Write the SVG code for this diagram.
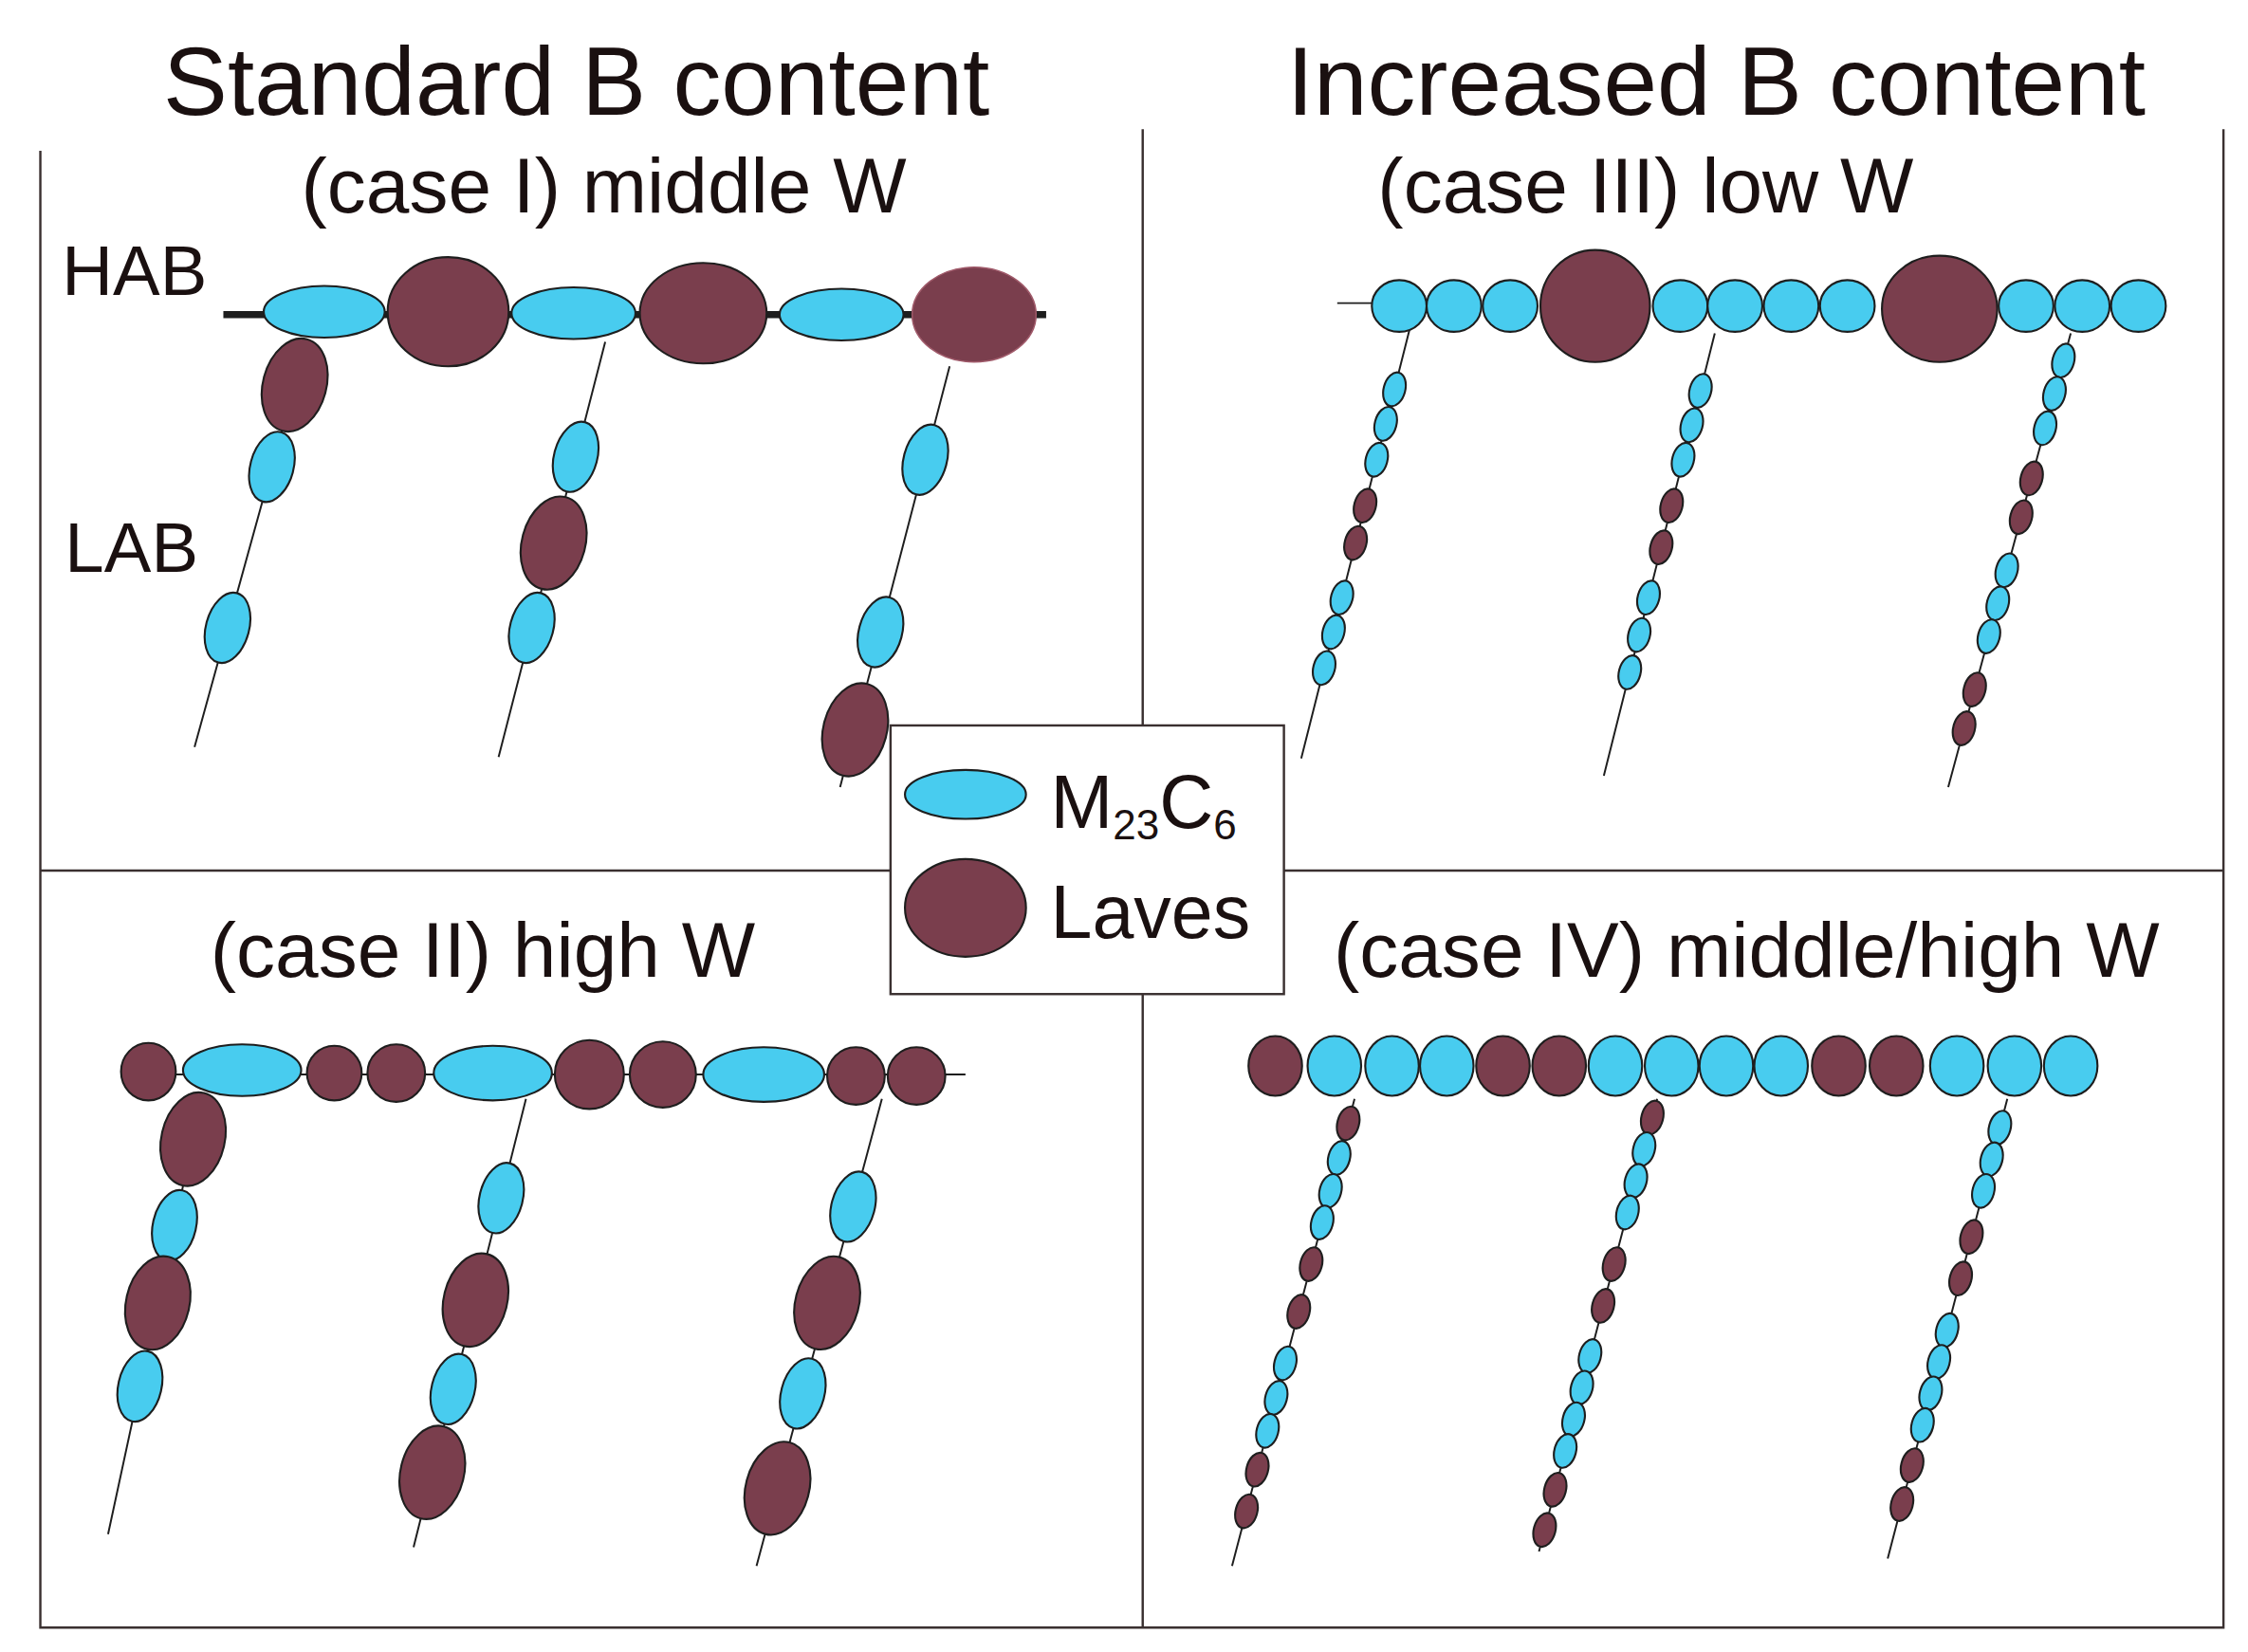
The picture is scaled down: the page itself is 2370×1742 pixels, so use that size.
<svg xmlns="http://www.w3.org/2000/svg" width="2370" height="1742" viewBox="0 0 2370 1742">
<style>
.c{fill:#48ccef;stroke:#1e1e1e;stroke-width:1.4}
.m{fill:#7a3e4d;stroke:#1e1e1e;stroke-width:1.4}
.ln{stroke:#1e1e1e;stroke-width:1.3;fill:none}
.fr{stroke:#3a3030;stroke-width:1.6;fill:none}
text{font-family:"Liberation Sans",Arial,sans-serif;fill:#1a1010}
.t{font-size:67px;text-anchor:middle}
.s{font-size:54px;text-anchor:middle}
.l{font-size:49px}
</style>
<rect width="2370" height="1742" fill="#fff"/>
<g transform="scale(1.5192,1.5148)">
<g id="frame">
<path class="fr" d="M28 105V1133H1543V90M793 90V1133M28 606H1543"/>
</g>
<g id="titles">
<text class="t" x="400" y="80">Standard B content</text>
<text class="t" x="1191" y="80">Increased B content</text>
<text class="s" x="419" y="148">(case I) middle W</text>
<text class="s" x="1142" y="148">(case III) low W</text>
<text class="s" x="335" y="680">(case II) high W</text>
<text class="s" x="1212" y="680">(case IV) middle/high W</text>
<text class="l" x="43" y="205">HAB</text>
<text class="l" x="45" y="398">LAB</text>
</g>
<g id="connectors">
<path d="M155 219H726" stroke="#1e1e1e" stroke-width="5"/>
<path class="ln" d="M213 237L135 520M420 238L346 527M659 255L583 548"/>
<path class="ln" d="M928 211H960M978 230L903 528M1190 232L1113 540M1437 232L1352 548"/>
<path class="ln" d="M88 748H670M140 765L75 1068M365 765L287 1077M612 765L525 1090"/>
<path class="ln" d="M940 765L855 1090M1150 765L1068 1080M1393 765L1310 1085"/>
</g>
<g id="case1">
<ellipse class="c" cx="225" cy="217" rx="42" ry="18"/>
<ellipse class="m" cx="311" cy="217" rx="42" ry="38"/>
<ellipse class="c" cx="398" cy="218" rx="43" ry="18"/>
<ellipse class="m" cx="488" cy="218" rx="44" ry="35"/>
<ellipse class="c" cx="584" cy="219" rx="43" ry="18"/>
<ellipse cx="676" cy="219" rx="43" ry="33" fill="#7a3e4d" stroke="#a05a6a" stroke-width="1"/>
<ellipse class="m" cx="204.5" cy="268" rx="22" ry="33" transform="rotate(15 204.5 268)"/>
<ellipse class="c" cx="188.7" cy="325" rx="15" ry="25" transform="rotate(15 188.7 325)"/>
<ellipse class="c" cx="157.9" cy="437" rx="15" ry="25" transform="rotate(15 157.9 437)"/>
<ellipse class="c" cx="399.5" cy="318" rx="15" ry="25" transform="rotate(15 399.5 318)"/>
<ellipse class="m" cx="384.2" cy="378" rx="22" ry="33" transform="rotate(15 384.2 378)"/>
<ellipse class="c" cx="369" cy="437" rx="15" ry="25" transform="rotate(15 369 437)"/>
<ellipse class="c" cx="642.1" cy="320" rx="15" ry="25" transform="rotate(15 642.1 320)"/>
<ellipse class="c" cx="611" cy="440" rx="15" ry="25" transform="rotate(15 611 440)"/>
<ellipse class="m" cx="593.4" cy="508" rx="22" ry="33" transform="rotate(15 593.4 508)"/>
</g>
<g id="case3">
<ellipse class="c" cx="971" cy="213" rx="19" ry="18"/>
<ellipse class="c" cx="1009" cy="213" rx="19" ry="18"/>
<ellipse class="c" cx="1048" cy="213" rx="19" ry="18"/>
<ellipse class="m" cx="1107" cy="213" rx="38" ry="39"/>
<ellipse class="c" cx="1166" cy="213" rx="19" ry="18"/>
<ellipse class="c" cx="1204" cy="213" rx="19" ry="18"/>
<ellipse class="c" cx="1243" cy="213" rx="19" ry="18"/>
<ellipse class="c" cx="1282" cy="213" rx="19" ry="18"/>
<ellipse class="m" cx="1346" cy="215" rx="40" ry="37"/>
<ellipse class="c" cx="1406" cy="213" rx="19" ry="18"/>
<ellipse class="c" cx="1445" cy="213" rx="19" ry="18"/>
<ellipse class="c" cx="1484" cy="213" rx="19" ry="18"/>
<g>
<ellipse class="c" cx="967.7" cy="271" rx="7.5" ry="12" transform="rotate(15 967.7 271)"/>
<ellipse class="c" cx="961.6" cy="295" rx="7.5" ry="12" transform="rotate(15 961.6 295)"/>
<ellipse class="c" cx="955.3" cy="320" rx="7.5" ry="12" transform="rotate(15 955.3 320)"/>
<ellipse class="m" cx="947.3" cy="352" rx="7.5" ry="12" transform="rotate(15 947.3 352)"/>
<ellipse class="m" cx="940.7" cy="378" rx="7.5" ry="12" transform="rotate(15 940.7 378)"/>
<ellipse class="c" cx="931.2" cy="416" rx="7.5" ry="12" transform="rotate(15 931.2 416)"/>
<ellipse class="c" cx="925.4" cy="440" rx="7.5" ry="12" transform="rotate(15 925.4 440)"/>
<ellipse class="c" cx="918.9" cy="465" rx="7.5" ry="12" transform="rotate(15 918.9 465)"/>
</g>
<g>
<ellipse class="c" cx="1180" cy="272" rx="7.5" ry="12" transform="rotate(15 1180 272)"/>
<ellipse class="c" cx="1174" cy="296" rx="7.5" ry="12" transform="rotate(15 1174 296)"/>
<ellipse class="c" cx="1168" cy="320" rx="7.5" ry="12" transform="rotate(15 1168 320)"/>
<ellipse class="m" cx="1160" cy="352" rx="7.5" ry="12" transform="rotate(15 1160 352)"/>
<ellipse class="m" cx="1152.8" cy="381" rx="7.5" ry="12" transform="rotate(15 1152.8 381)"/>
<ellipse class="c" cx="1144" cy="416" rx="7.5" ry="12" transform="rotate(15 1144 416)"/>
<ellipse class="c" cx="1137.5" cy="442" rx="7.5" ry="12" transform="rotate(15 1137.5 442)"/>
<ellipse class="c" cx="1131" cy="468" rx="7.5" ry="12" transform="rotate(15 1131 468)"/>
</g>
<g>
<ellipse class="c" cx="1431.9" cy="251" rx="7.5" ry="12" transform="rotate(15 1431.9 251)"/>
<ellipse class="c" cx="1425.7" cy="274" rx="7.5" ry="12" transform="rotate(15 1425.7 274)"/>
<ellipse class="c" cx="1419.2" cy="298" rx="7.5" ry="12" transform="rotate(15 1419.2 298)"/>
<ellipse class="m" cx="1409.8" cy="333" rx="7.5" ry="12" transform="rotate(15 1409.8 333)"/>
<ellipse class="m" cx="1402.6" cy="360" rx="7.5" ry="12" transform="rotate(15 1402.6 360)"/>
<ellipse class="c" cx="1392.6" cy="397" rx="7.5" ry="12" transform="rotate(15 1392.6 397)"/>
<ellipse class="c" cx="1386.4" cy="420" rx="7.5" ry="12" transform="rotate(15 1386.4 420)"/>
<ellipse class="c" cx="1380.2" cy="443" rx="7.5" ry="12" transform="rotate(15 1380.2 443)"/>
<ellipse class="m" cx="1370.3" cy="480" rx="7.5" ry="12" transform="rotate(15 1370.3 480)"/>
<ellipse class="m" cx="1363" cy="507" rx="7.5" ry="12" transform="rotate(15 1363 507)"/>
</g>
</g>
<g id="case2">
<ellipse class="m" cx="103" cy="746" rx="19" ry="20"/>
<ellipse class="c" cx="168" cy="745" rx="41" ry="18"/>
<ellipse class="m" cx="232" cy="747" rx="19" ry="19"/>
<ellipse class="m" cx="275" cy="747" rx="20" ry="20"/>
<ellipse class="c" cx="342" cy="747" rx="41" ry="19"/>
<ellipse class="m" cx="409" cy="748" rx="24" ry="24"/>
<ellipse class="m" cx="460" cy="748" rx="23" ry="23"/>
<ellipse class="c" cx="530" cy="748" rx="42" ry="19"/>
<ellipse class="m" cx="594" cy="749" rx="20" ry="20"/>
<ellipse class="m" cx="636" cy="749" rx="20" ry="20"/>
<ellipse class="m" cx="134" cy="793" rx="22" ry="33" transform="rotate(13 134 793)"/>
<ellipse class="c" cx="121.1" cy="853" rx="15" ry="25" transform="rotate(13 121.1 853)"/>
<ellipse class="m" cx="109.5" cy="907" rx="22" ry="33" transform="rotate(13 109.5 907)"/>
<ellipse class="c" cx="97.1" cy="965" rx="15" ry="25" transform="rotate(13 97.1 965)"/>
<ellipse class="c" cx="347.8" cy="834" rx="15" ry="25" transform="rotate(14 347.8 834)"/>
<ellipse class="m" cx="330" cy="905" rx="22" ry="33" transform="rotate(14 330 905)"/>
<ellipse class="c" cx="314.5" cy="967" rx="15" ry="25" transform="rotate(14 314.5 967)"/>
<ellipse class="m" cx="300" cy="1025" rx="22" ry="33" transform="rotate(14 300 1025)"/>
<ellipse class="c" cx="592" cy="840" rx="15" ry="25" transform="rotate(15 592 840)"/>
<ellipse class="m" cx="574" cy="907" rx="22" ry="33" transform="rotate(15 574 907)"/>
<ellipse class="c" cx="557.1" cy="970" rx="15" ry="25" transform="rotate(15 557.1 970)"/>
<ellipse class="m" cx="539.5" cy="1036" rx="22" ry="33" transform="rotate(15 539.5 1036)"/>
</g>
<g id="case4">
<ellipse class="m" cx="885" cy="742" rx="18.6" ry="20.8"/>
<ellipse class="c" cx="926" cy="742" rx="18.6" ry="20.8"/>
<ellipse class="c" cx="966" cy="742" rx="18.6" ry="20.8"/>
<ellipse class="c" cx="1004" cy="742" rx="18.6" ry="20.8"/>
<ellipse class="m" cx="1043" cy="742" rx="18.6" ry="20.8"/>
<ellipse class="m" cx="1082" cy="742" rx="18.6" ry="20.8"/>
<ellipse class="c" cx="1121" cy="742" rx="18.6" ry="20.8"/>
<ellipse class="c" cx="1160" cy="742" rx="18.6" ry="20.8"/>
<ellipse class="c" cx="1198" cy="742" rx="18.6" ry="20.8"/>
<ellipse class="c" cx="1236" cy="742" rx="18.6" ry="20.8"/>
<ellipse class="m" cx="1276" cy="742" rx="18.6" ry="20.8"/>
<ellipse class="m" cx="1316" cy="742" rx="18.6" ry="20.8"/>
<ellipse class="c" cx="1358" cy="742" rx="18.6" ry="20.8"/>
<ellipse class="c" cx="1398" cy="742" rx="18.6" ry="20.8"/>
<ellipse class="c" cx="1437" cy="742" rx="18.6" ry="20.8"/>
<g>
<ellipse class="m" cx="935.6" cy="782" rx="7.5" ry="12" transform="rotate(15 935.6 782)"/>
<ellipse class="c" cx="929.3" cy="806" rx="7.5" ry="12" transform="rotate(15 929.3 806)"/>
<ellipse class="c" cx="923.3" cy="829" rx="7.5" ry="12" transform="rotate(15 923.3 829)"/>
<ellipse class="c" cx="917.5" cy="851" rx="7.5" ry="12" transform="rotate(15 917.5 851)"/>
<ellipse class="m" cx="909.9" cy="880" rx="7.5" ry="12" transform="rotate(15 909.9 880)"/>
<ellipse class="m" cx="901.3" cy="913" rx="7.5" ry="12" transform="rotate(15 901.3 913)"/>
<ellipse class="c" cx="891.9" cy="949" rx="7.5" ry="12" transform="rotate(15 891.9 949)"/>
<ellipse class="c" cx="885.6" cy="973" rx="7.5" ry="12" transform="rotate(15 885.6 973)"/>
<ellipse class="c" cx="879.6" cy="996" rx="7.5" ry="12" transform="rotate(15 879.6 996)"/>
<ellipse class="m" cx="872.5" cy="1023" rx="7.5" ry="12" transform="rotate(15 872.5 1023)"/>
<ellipse class="m" cx="865" cy="1052" rx="7.5" ry="12" transform="rotate(15 865 1052)"/>
</g>
<g>
<ellipse class="m" cx="1146.6" cy="778" rx="7.5" ry="12" transform="rotate(15 1146.6 778)"/>
<ellipse class="c" cx="1140.9" cy="800" rx="7.5" ry="12" transform="rotate(15 1140.9 800)"/>
<ellipse class="c" cx="1135.2" cy="822" rx="7.5" ry="12" transform="rotate(15 1135.2 822)"/>
<ellipse class="c" cx="1129.4" cy="844" rx="7.5" ry="12" transform="rotate(15 1129.4 844)"/>
<ellipse class="m" cx="1120.1" cy="880" rx="7.5" ry="12" transform="rotate(15 1120.1 880)"/>
<ellipse class="m" cx="1112.5" cy="909" rx="7.5" ry="12" transform="rotate(15 1112.5 909)"/>
<ellipse class="c" cx="1103.4" cy="944" rx="7.5" ry="12" transform="rotate(15 1103.4 944)"/>
<ellipse class="c" cx="1097.7" cy="966" rx="7.5" ry="12" transform="rotate(15 1097.7 966)"/>
<ellipse class="c" cx="1092" cy="988" rx="7.5" ry="12" transform="rotate(15 1092 988)"/>
<ellipse class="c" cx="1086.2" cy="1010" rx="7.5" ry="12" transform="rotate(15 1086.2 1010)"/>
<ellipse class="m" cx="1079.2" cy="1037" rx="7.5" ry="12" transform="rotate(15 1079.2 1037)"/>
<ellipse class="m" cx="1071.9" cy="1065" rx="7.5" ry="12" transform="rotate(15 1071.9 1065)"/>
</g>
<g>
<ellipse class="c" cx="1387.8" cy="785" rx="7.5" ry="12" transform="rotate(15 1387.8 785)"/>
<ellipse class="c" cx="1382.1" cy="807" rx="7.5" ry="12" transform="rotate(15 1382.1 807)"/>
<ellipse class="c" cx="1376.4" cy="829" rx="7.5" ry="12" transform="rotate(15 1376.4 829)"/>
<ellipse class="m" cx="1368.1" cy="861" rx="7.5" ry="12" transform="rotate(15 1368.1 861)"/>
<ellipse class="m" cx="1360.6" cy="890" rx="7.5" ry="12" transform="rotate(15 1360.6 890)"/>
<ellipse class="c" cx="1351.2" cy="926" rx="7.5" ry="12" transform="rotate(15 1351.2 926)"/>
<ellipse class="c" cx="1345.5" cy="948" rx="7.5" ry="12" transform="rotate(15 1345.5 948)"/>
<ellipse class="c" cx="1339.8" cy="970" rx="7.5" ry="12" transform="rotate(15 1339.8 970)"/>
<ellipse class="c" cx="1334.1" cy="992" rx="7.5" ry="12" transform="rotate(15 1334.1 992)"/>
<ellipse class="m" cx="1326.9" cy="1020" rx="7.5" ry="12" transform="rotate(15 1326.9 1020)"/>
<ellipse class="m" cx="1319.9" cy="1047" rx="7.5" ry="12" transform="rotate(15 1319.9 1047)"/>
</g>
</g>
<g id="legend">
<rect x="618" y="505" width="273" height="187" fill="#fff" stroke="#3a3030" stroke-width="1.6"/>
<ellipse class="c" cx="670" cy="553" rx="42" ry="17"/>
<ellipse class="m" cx="670" cy="632" rx="42" ry="34"/>
<text x="729" y="576" font-size="52">M<tspan font-size="29" dy="8">23</tspan><tspan dy="-8">C</tspan><tspan font-size="29" dy="8">6</tspan></text>
<text x="729" y="653" font-size="52">Laves</text>
</g>
</g>
</svg>
